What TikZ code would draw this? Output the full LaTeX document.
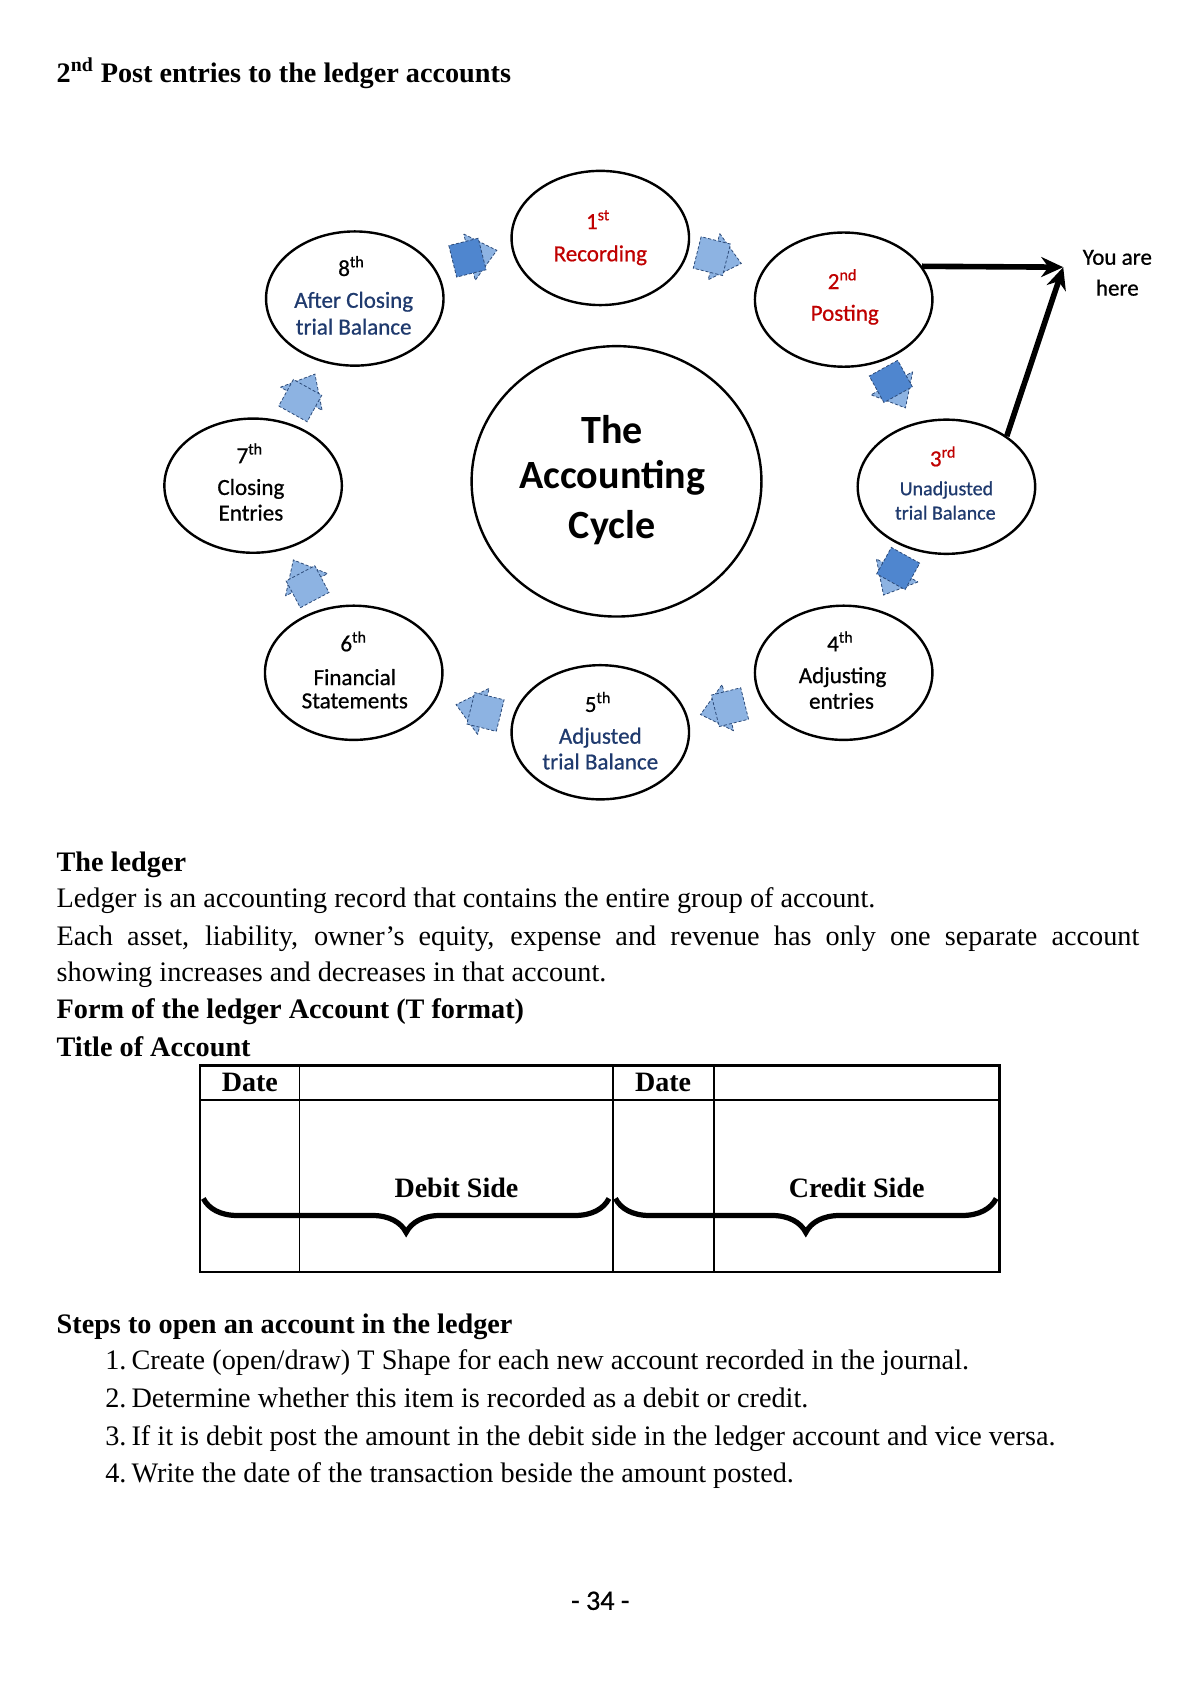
\documentclass[tikz,border=0pt]{standalone}
\usepackage{fontspec}
\setmainfont{Liberation Serif}
\newfontfamily\carl{Carlito}
\newfontfamily\carlh{Carlito}[FakeBold=0.7]
\usetikzlibrary{shapes.geometric,arrows.meta,decorations.pathreplacing}
\definecolor{redtxt}{HTML}{C00000}
\definecolor{bluetxt}{HTML}{1F3A6E}
\definecolor{arrdark}{HTML}{4F86CF}
\definecolor{arrlight}{HTML}{8DB3E2}
\definecolor{arredge}{HTML}{2C4A78}
\tikzset{
  pics/cycarrow/.style n args={2}{code={
    \filldraw[fill=#2,draw=arredge,line width=0.4pt,dash pattern=on 1.5pt off 1pt]
      (-3,-22) -- (23,0) -- (-3,22) -- cycle;
    \filldraw[fill=#1,draw=arredge,line width=0.4pt,dash pattern=on 1.5pt off 1pt]
      (-19,-15) rectangle (9,15);
  }}
}
\begin{document}
\begin{tikzpicture}[x=0.54pt,y=-0.54pt,
  stepell/.style={draw,ellipse,line width=1.2pt,minimum width=88.6pt,minimum height=67pt,inner sep=0pt},
  lbl/.style={font=\carlh\fontsize{11.5}{13}\selectfont,inner sep=0pt,anchor=center},
  slbl/.style={font=\carlh\fontsize{10}{12}\selectfont,inner sep=0pt,anchor=center},
  big/.style={font=\carl\bfseries\fontsize{20}{24}\selectfont,inner sep=0pt,anchor=center},
  txt/.style={anchor=base west,inner sep=0pt,font=\fontsize{14.1}{16}\selectfont},
  btxt/.style={anchor=base west,inner sep=0pt,font=\fontsize{14.1}{16}\selectfont\bfseries},
  ctxt/.style={anchor=center,inner sep=0pt,font=\fontsize{14}{16}\selectfont\bfseries},
  bigarrow/.style={line width=2.8pt,-{Stealth[length=11pt,width=10pt]}},
  brc/.style={decorate,decoration={brace,mirror,amplitude=17pt},line width=2.6pt}
]
\fill[white] (0,0) rectangle (1109,1568);
\useasboundingbox (0,0) rectangle (1109,1568);

% title
\node[btxt] (title) at (52,76) {2\textsuperscript{nd} Post entries to the ledger accounts};

% ellipses
\node[stepell] (recording) at (555,220) {};
\node[stepell] (posting) at (780,277) {};
\node[stepell] (unadj) at (875,450) {};
\node[stepell] (adjusting) at (780,622) {};
\node[stepell] (adjtb) at (555,677) {};
\node[stepell] (financial) at (327,622) {};
\node[stepell] (closing) at (234,449) {};
\node[stepell] (after) at (328,276) {};
\node[draw,ellipse,line width=1.2pt,minimum width=144.7pt,minimum height=135pt,inner sep=0pt] (center) at (570,445) {};

% labels
\node[lbl,text=redtxt] (l1a) at (553,203) {1\textsuperscript{st}};
\node[lbl,text=redtxt] (l1b) at (555,236) {Recording};
\node[lbl,text=redtxt] (l2a) at (779,258) {2\textsuperscript{nd}};
\node[lbl,text=redtxt] (l2b) at (781,291) {Posting};
\node[lbl,text=redtxt] (l3a) at (872,422) {3\textsuperscript{rd}};
\node[slbl,text=bluetxt] (l3b) at (875,453) {Unadjusted};
\node[slbl,text=bluetxt] (l3c) at (874,474) {trial Balance};
\node[lbl] (l4a) at (777,593) {4\textsuperscript{th}};
\node[lbl] (l4b) at (779,626) {Adjusting};
\node[lbl] (l4c) at (778,648) {entries};
\node[lbl] (l5a) at (553,649) {5\textsuperscript{th}};
\node[lbl,text=bluetxt] (l5b) at (555,682) {Adjusted};
\node[lbl,text=bluetxt] (l5c) at (555,704) {trial Balance};
\node[lbl] (l6a) at (327,593) {6\textsuperscript{th}};
\node[lbl] (l6b) at (328,626) {Financial};
\node[lbl] (l6c) at (328,648) {Statements};
\node[lbl] (l7a) at (231,419) {7\textsuperscript{th}};
\node[lbl] (l7b) at (232,452) {Closing};
\node[lbl] (l7c) at (232,474) {Entries};
\node[lbl] (l8a) at (325,246) {8\textsuperscript{th}};
\node[lbl,text=bluetxt] (l8b) at (327,279) {After Closing};
\node[lbl,text=bluetxt] (l8c) at (327,302) {trial Balance};
\node[big] (c1) at (566,397) {The};
\node[big] (c2) at (566,442) {Accounting};
\node[big] (c3) at (566,488) {Cycle};

% you are here
\node[lbl] (you1) at (1033,238) {You are};
\node[lbl] (you2) at (1033,266) {here};
\coordinate (here) at (983,247);
\draw[bigarrow] (posting.23) -- (here);
\draw[bigarrow] (unadj.40) -- (here);

% cycle arrows
\pic[rotate=14] at (437,237) {cycarrow={arrdark}{arrlight}};
\pic[rotate=-14] at (663,238) {cycarrow={arrlight}{arrlight}};
\pic[rotate=-61] at (826,357) {cycarrow={arrdark}{arrlight}};
\pic[rotate=-119] at (828,530) {cycarrow={arrdark}{arrlight}};
\pic[rotate=194] at (670,655) {cycarrow={arrlight}{arrlight}};
\pic[rotate=166] at (444,657) {cycarrow={arrlight}{arrlight}};
\pic[rotate=118] at (282,538) {cycarrow={arrlight}{arrlight}};
\pic[rotate=61] at (280,366) {cycarrow={arrlight}{arrlight}};

% body text
\node[btxt] (h1) at (52,806) {The ledger};
\node[txt] (p1) at (52,839) {Ledger is an accounting record that contains the entire group of account.};
\node[txt] (p2) at (52,874) {\makebox[540.5pt][s]{Each asset, liability, owner’s equity, expense and revenue has only one separate account}};
\node[txt] (p3) at (52,907) {showing increases and decreases in that account.};
\node[btxt] (h2) at (52,942) {Form of the ledger Account (T format)};
\node[btxt] (h3) at (52,977) {Title of Account};

% T account table
\draw[line width=1.3pt] (185,985) rectangle (924,1176);
\draw[line width=0.8pt] (185,1017) -- (924,1017);
\draw[line width=0.8pt] (277,985) -- (277,1176);
\draw[line width=0.8pt] (567,985) -- (567,1176);
\draw[line width=0.8pt] (660,985) -- (660,1176);
\node[ctxt] (date1) at (231,1001) {Date};
\node[ctxt] (date2) at (613,1001) {Date};
\node[ctxt] (debit) at (422,1098) {Debit Side};
\node[ctxt] (credit) at (792,1098) {Credit Side};
\coordinate (b1s) at (188,1108);
\coordinate (b1e) at (563,1108);
\coordinate (b2s) at (569,1108);
\coordinate (b2e) at (921,1108);
\draw[brc] (b1s) -- (b1e);
\draw[brc] (b2s) -- (b2e);

% steps
\node[btxt] (h4) at (52,1233) {Steps to open an account in the ledger};
\node[txt] (s1) at (97,1266) {1.\hspace{0.18em}Create (open/draw) T Shape for each new account recorded in the journal.};
\node[txt] (s2) at (97,1301) {2.\hspace{0.18em}Determine whether this item is recorded as a debit or credit.};
\node[txt] (s3) at (97,1336) {3.\hspace{0.18em}If it is debit post the amount in the debit side in the ledger account and vice versa.};
\node[txt] (s4) at (97,1371) {4.\hspace{0.18em}Write the date of the transaction beside the amount posted.};

\node[font=\carlh\fontsize{14}{16}\selectfont,inner sep=0pt] (page) at (555,1480) {- 34 -};
\end{tikzpicture}
\end{document}
